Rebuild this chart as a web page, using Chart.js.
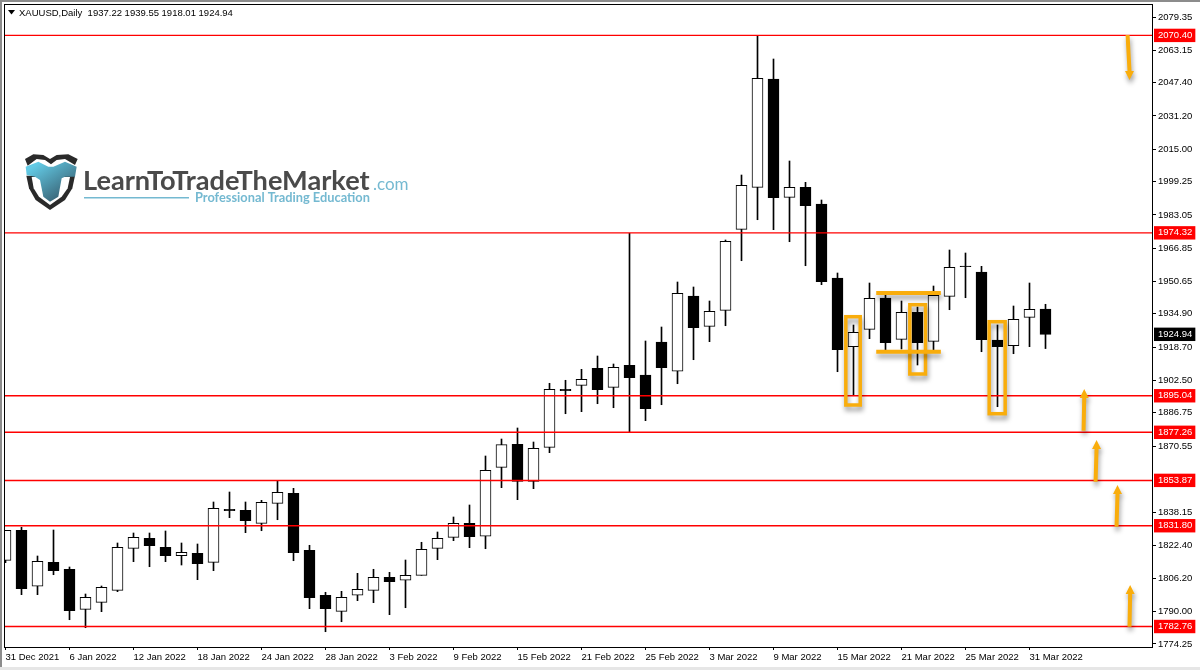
<!DOCTYPE html>
<html>
<head>
<meta charset="utf-8">
<title>XAUUSD Daily</title>
<script src="https://cdn.jsdelivr.net/npm/chart.js@4"></script>
<style>
  html, body { margin: 0; padding: 0; background: #fff; }
  canvas { display: block; }
</style>
</head>
<body>
<canvas id="chart" width="1200" height="670"></canvas>
<script>
// candles
const opens = [1814.98,1829.58,1802.33,1814.00,1810.60,1791.13,1794.54,1800.38,1820.82,1825.68,1821.30,1817.22,1818.38,1814.00,1839.79,1839.31,1832.98,1842.71,1847.58,1819.84,1797.95,1790.16,1797.95,1800.38,1806.70,1805.25,1807.68,1820.82,1826.17,1832.98,1826.66,1860.23,1871.42,1853.42,1869.96,1898.19,1900.13,1908.40,1899.16,1909.86,1905.14,1921.20,1906.95,1943.59,1928.84,1936.63,1976.04,1996.48,2049.18,1991.61,1996.48,1988.35,1952.35,1918.92,1927.38,1942.61,1922.52,1935.65,1921.54,1943.44,1958.18,1955.26,1922.18,1919.40,1933.22,1937.22];
const closes = [1829.58,1801.16,1814.49,1809.92,1790.45,1796.97,1801.84,1821.30,1826.17,1822.08,1817.22,1818.87,1813.32,1840.28,1839.11,1834.25,1843.20,1848.07,1818.68,1796.78,1791.43,1796.97,1800.87,1806.70,1804.56,1807.68,1820.33,1825.68,1832.98,1826.46,1858.77,1871.23,1853.42,1869.48,1898.19,1897.51,1903.05,1897.99,1908.89,1903.83,1888.75,1908.70,1944.90,1928.16,1936.14,1970.20,1997.45,2049.52,1991.42,1996.48,1987.53,1950.55,1917.46,1925.92,1942.47,1920.86,1935.65,1920.86,1943.93,1957.55,1957.84,1922.32,1918.92,1932.25,1937.11,1924.94];
const highs = [1829.58,1831.04,1817.07,1829.72,1811.72,1798.58,1802.47,1823.40,1828.26,1828.26,1829.24,1823.40,1822.91,1843.35,1848.21,1843.35,1844.17,1853.71,1850.01,1822.28,1799.41,1799.89,1808.65,1810.60,1809.14,1815.12,1823.74,1828.75,1836.05,1841.89,1865.73,1874.00,1879.36,1872.54,1901.11,1902.57,1907.92,1914.39,1910.50,1974.10,1921.69,1928.50,1950.40,1947.97,1941.15,1970.84,2002.46,2070.44,2058.91,2009.28,1998.91,1990.30,1954.78,1929.47,1949.91,1944.07,1941.15,1938.23,1948.45,1965.97,1964.51,1958.04,1929.47,1938.72,1949.91,1939.55];
const lows = [1813.81,1798.24,1798.24,1807.97,1786.07,1782.18,1789.97,1799.70,1814.30,1811.86,1814.30,1812.69,1805.54,1809.92,1835.71,1828.41,1829.38,1834.73,1814.78,1791.43,1780.23,1785.10,1795.32,1794.35,1788.51,1791.91,1807.68,1815.27,1824.52,1821.11,1820.62,1850.31,1844.47,1849.82,1867.34,1886.31,1887.29,1891.18,1889.23,1877.41,1882.91,1890.69,1900.91,1912.59,1921.35,1929.13,1960.76,1980.71,1975.85,1970.01,1958.33,1949.09,1906.75,1895.07,1922.81,1917.31,1917.80,1910.01,1917.31,1936.92,1942.76,1916.48,1889.72,1915.51,1918.92,1918.01];

const priceTicks = [2079.35,2063.15,2047.40,2031.20,2015.00,1999.25,1983.05,1966.85,1950.65,1934.90,1918.70,1902.50,1886.75,1870.55,1838.15,1822.40,1806.20,1790.00,1774.25];
const levels = [2070.40,1974.32,1895.04,1877.26,1853.87,1831.80,1782.76];
const lastPrice = 1924.94;
const dateTicks = [0,4,8,12,16,20,24,28,32,36,40,44,48,52,56,60,64];
const dateLabels = ["31 Dec 2021","6 Jan 2022","12 Jan 2022","18 Jan 2022","24 Jan 2022","28 Jan 2022","3 Feb 2022","9 Feb 2022","15 Feb 2022","21 Feb 2022","25 Feb 2022","3 Mar 2022","9 Mar 2022","15 Mar 2022","21 Mar 2022","25 Mar 2022","31 Mar 2022"];
const headerText = "XAUUSD,Daily  1937.22 1939.55 1918.01 1924.94";

// the orange drawings, in bar number and price
const boxes = [[52.52,53.42,1933.51,1890.55],[56.52,57.50,1939.35,1905.63],[61.48,62.48,1931.08,1886.31]];
const bars = [[54.42,58.46,1945.05],[54.42,58.46,1916.43]];
const arrows = [[70.13,2070.60,70.25,2048.69],[67.38,1878.04,67.42,1898.33],[68.13,1853.22,68.19,1873.52],[69.44,1831.33,69.50,1851.62],[70.25,1782.66,70.29,1802.96]];

const orange = "#f9ad0c";
const uiFont = "'Liberation Sans', Arial, sans-serif";
const isLevel = v => levels.includes(v);

// chart frame, header text and logo
const framePlugin = {
  id: "frame",
  beforeDraw(chart) {
    const c = chart.ctx, a = chart.chartArea;
    c.save();
    c.fillStyle = "#8c8c8c";
    c.fillRect(0, 0, 1200, 2);
    c.fillRect(0, 0, 2, 670);
    c.fillStyle = "#e6e6e6";
    c.fillRect(0, 667, 1200, 3);
    c.strokeStyle = "#000";
    c.lineWidth = 1;
    c.strokeRect(a.left - 0.5, a.top - 0.5, a.right - a.left + 1, a.bottom - a.top + 1);
    c.restore();
  },
  afterDraw(chart) {
    const c = chart.ctx;
    c.save();
    c.fillStyle = "#000";
    c.beginPath();
    c.moveTo(8, 10); c.lineTo(15, 10); c.lineTo(11.5, 14.5); c.closePath();
    c.fill();
    c.font = "9.5px " + uiFont;
    c.textBaseline = "middle";
    c.fillText(headerText, 19, 13);
    drawLogo(c);
    c.restore();
  }
};

function drawLogo(c) {
  const poly = pts => {
    c.beginPath();
    pts.forEach((p, i) => i ? c.lineTo(p[0], p[1]) : c.moveTo(p[0], p[1]));
    c.closePath();
    c.fill();
  };
  c.save();
  c.translate(15, 145);
  c.scale(1 / 3, 1 / 3);
  c.fillStyle = "#2a2a2a";
  poly([[30,42],[55,28],[85,30],[105,42],[125,30],[160,28],[188,42],[180,60],[150,42],[125,45],[108,58],[90,45],[65,42],[38,62]]);
  poly([[34,92],[180,92],[172,130],[150,165],[105,195],[62,165],[42,130]]);
  c.fillStyle = "#fff";
  poly([[50,96],[165,96],[158,130],[140,155],[105,180],[72,155],[56,130]]);
  const g = c.createLinearGradient(60, 60, 130, 165);
  g.addColorStop(0, "#63cbe6");
  g.addColorStop(1, "#3a6577");
  c.fillStyle = g;
  poly([[32,65],[70,50],[100,65],[115,65],[150,50],[185,65],[180,95],[150,95],[140,100],[130,155],[105,170],[85,155],[75,105],[60,95],[35,90]]);
  c.restore();

  c.textBaseline = "alphabetic";
  c.fillStyle = "#4a4a4a";
  c.font = "bold 27.2px Lato, sans-serif";
  c.fillText("LearnToTradeTheMarket", 83, 190);
  c.fillStyle = "#74b9d1";
  c.font = "17px Lato, sans-serif";
  c.fillText(".com", 373, 190);
  c.font = "bold 12.8px Lato, sans-serif";
  c.fillText("Professional Trading Education", 195, 202);
  c.fillRect(84, 197, 105, 1.5);
}

// orange rectangles, bars and arrows placed through the scales
const drawingsPlugin = {
  id: "drawings",
  afterDatasetsDraw(chart) {
    const c = chart.ctx, x = chart.scales.x, y = chart.scales.y;
    c.save();
    c.shadowColor = "rgba(0,0,0,0.4)";
    c.shadowBlur = 5;
    c.shadowOffsetX = 1;
    c.shadowOffsetY = 4;
    c.strokeStyle = orange;
    c.fillStyle = orange;
    c.lineWidth = 3.5;
    boxes.forEach(b => {
      const l = x.getPixelForValue(b[0]), r = x.getPixelForValue(b[1]);
      const t = y.getPixelForValue(b[2]), e = y.getPixelForValue(b[3]);
      c.strokeRect(l, t, r - l, e - t);
    });
    c.lineWidth = 4;
    bars.forEach(b => {
      c.beginPath();
      c.moveTo(x.getPixelForValue(b[0]), y.getPixelForValue(b[2]));
      c.lineTo(x.getPixelForValue(b[1]), y.getPixelForValue(b[2]));
      c.stroke();
    });
    arrows.forEach(a => {
      const x0 = x.getPixelForValue(a[0]), y0 = y.getPixelForValue(a[1]);
      const x1 = x.getPixelForValue(a[2]), y1 = y.getPixelForValue(a[3]);
      const dir = y1 > y0 ? -1 : 1; // head opens back along the shaft
      c.beginPath();
      c.moveTo(x0 - 2, y0);
      c.lineTo(x1 - 2, y1 + dir * 9);
      c.lineTo(x1 - 4.5, y1 + dir * 9);
      c.lineTo(x1, y1);
      c.lineTo(x1 + 4.5, y1 + dir * 9);
      c.lineTo(x1 + 2, y1 + dir * 9);
      c.lineTo(x0 + 2, y0);
      c.closePath();
      c.fill();
    });
    c.restore();
  }
};

const wickData = opens.map((o, i) => ({ x: i, y: [lows[i], highs[i]] }));
const bodyData = opens.map((o, i) => ({ x: i, y: [Math.min(o, closes[i]), Math.max(o, closes[i])] }));
const bodyColors = opens.map((o, i) => closes[i] >= o ? "#fff" : "#000");

const xMin = -0.03125, xMax = 71.65625;
const levelSets = levels.map((v, i) => ({
  type: "line",
  data: [{ x: xMin, y: v }, { x: xMax, y: v }],
  borderColor: "#f00",
  borderWidth: i < 2 ? 1.3 : 1.5,
  pointRadius: 0,
  order: 1
}));

new Chart(document.getElementById("chart"), {
  type: "bar",
  data: {
    datasets: [
      { data: wickData, grouped: false, barThickness: 1, backgroundColor: "#000", borderWidth: 0, order: 3 },
      { data: bodyData, grouped: false, barThickness: 11, backgroundColor: bodyColors, borderColor: "#000", borderWidth: 1, borderSkipped: false, order: 2 },
      ...levelSets
    ]
  },
  options: {
    responsive: false,
    devicePixelRatio: 1,
    animation: false,
    layout: { padding: { left: 5, top: 5, right: 0, bottom: 0 } },
    plugins: { legend: { display: false }, tooltip: { enabled: false } },
    scales: {
      x: {
        type: "linear",
        offset: false,
        min: xMin,
        max: xMax,
        afterBuildTicks: s => { s.ticks = dateTicks.map(v => ({ value: v })); },
        afterFit: s => { s.height = 23; s.paddingLeft = 0; s.paddingRight = 0; },
        grid: { offset: false, drawOnChartArea: false, tickLength: 3, tickColor: "#000" },
        border: { display: false },
        ticks: {
          autoSkip: false,
          maxRotation: 0,
          align: "start",
          padding: 2,
          color: "#000",
          font: { family: uiFont, size: 9.5 },
          callback: v => dateLabels[dateTicks.indexOf(v)]
        }
      },
      y: {
        position: "right",
        min: 1772.79,
        max: 2085.19,
        afterBuildTicks: s => {
          s.ticks = priceTicks.concat(levels, [lastPrice]).map(v => ({ value: v }));
        },
        afterFit: s => { s.width = 48; s.paddingTop = 0; s.paddingBottom = 0; },
        grid: {
          drawOnChartArea: false,
          tickLength: 4,
          tickColor: c => (isLevel(c.tick.value) || c.tick.value === lastPrice) ? "rgba(0,0,0,0)" : "#000"
        },
        border: { display: false },
        ticks: {
          autoSkip: false,
          padding: 2,
          font: { family: uiFont, size: 9.5 },
          color: c => (isLevel(c.tick.value) || c.tick.value === lastPrice) ? "#fff" : "#000",
          showLabelBackdrop: c => isLevel(c.tick.value) || c.tick.value === lastPrice,
          backdropColor: c => c.tick.value === lastPrice ? "#000" : isLevel(c.tick.value) ? "#f00" : "rgba(0,0,0,0)",
          backdropPadding: { top: 1, bottom: 1, left: 4, right: 3 },
          callback: v => v.toFixed(2)
        }
      }
    }
  },
  plugins: [framePlugin, drawingsPlugin]
});
</script>
</body>
</html>
